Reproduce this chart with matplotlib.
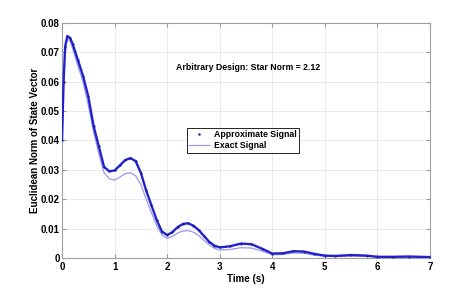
import matplotlib
matplotlib.use("Agg")
import matplotlib.pyplot as plt

t = [0, 0.03, 0.06, 0.1, 0.15, 0.2, 0.3, 0.4, 0.5, 0.6, 0.7, 0.8, 0.9, 1.0, 1.1, 1.2, 1.3,
     1.4, 1.5, 1.6, 1.7, 1.8, 1.9, 2.0, 2.1, 2.2, 2.3, 2.4, 2.5, 2.6, 2.7, 2.8, 2.9, 3.0,
     3.2, 3.4, 3.6, 3.8, 4.0, 4.2, 4.4, 4.6, 4.8, 5.0, 5.2, 5.5, 5.8, 6.0, 6.3, 6.6, 7.0]
approx = [0.040, 0.060, 0.072, 0.0755, 0.075, 0.073, 0.0675, 0.062, 0.055, 0.045, 0.038,
          0.031, 0.0295, 0.0298, 0.0315, 0.0333, 0.034, 0.0330, 0.029, 0.023, 0.018, 0.013,
          0.009, 0.0078, 0.0088, 0.0105, 0.0116, 0.0118, 0.011, 0.0095, 0.0075, 0.0055,
          0.0042, 0.0036, 0.0040, 0.0049, 0.0047, 0.0032, 0.0015, 0.0016, 0.0023, 0.0022,
          0.0014, 0.0008, 0.0007, 0.0010, 0.0008, 0.0004, 0.0004, 0.0005, 0.0003]
exact = [0.040, 0.058, 0.070, 0.0745, 0.074, 0.0715, 0.0655, 0.060, 0.052, 0.043, 0.0355,
         0.029, 0.027, 0.0265, 0.0275, 0.0287, 0.029, 0.028, 0.025, 0.020, 0.0155, 0.011,
         0.0078, 0.0067, 0.0073, 0.0085, 0.0092, 0.0093, 0.0088, 0.0076, 0.006, 0.0045,
         0.0033, 0.0027, 0.0029, 0.0035, 0.0034, 0.0024, 0.0011, 0.0012, 0.0017, 0.0016,
         0.0010, 0.0006, 0.0005, 0.0007, 0.0006, 0.0003, 0.0003, 0.0004, 0.0002]

xticks = [0, 1, 2, 3, 4, 5, 6, 7]
yticks = [0, 0.01, 0.02, 0.03, 0.04, 0.05, 0.06, 0.07, 0.08]
ytick_labels = ["0", "0.01", "0.02", "0.03", "0.04", "0.05", "0.06", "0.07", "0.08"]

plt.rcParams['font.family'] = ['Liberation Sans', 'DejaVu Sans']
plt.rcParams['font.weight'] = 'bold'

fig = plt.figure(figsize=(4.74, 2.89), dpi=100)
ax = fig.add_axes([0.1308, 0.1073, 0.9072 - 0.1308, 0.9204 - 0.1073])

ax.plot(t, exact, color='#9999ee', lw=0.9, label='Exact Signal', zorder=3)
ax.plot(t, approx, color='#2222cc', lw=1.7, zorder=4)
ax.plot(t, approx, linestyle='none', marker='.', ms=1.2, color='#1a1aaa',
        label='Approximate Signal', zorder=5)

ax.set_xlim(0, 7)
ax.set_ylim(0, 0.08)
ax.set_xticks(xticks)
ax.set_yticks(yticks)
ax.set_yticklabels(ytick_labels)
ax.tick_params(direction='in', length=3, labelsize=7, top=True, right=True,
               color='#999999')
ax.tick_params(axis='y', pad=1.5)
ax.tick_params(axis='x', pad=3)
for lab in ax.get_xticklabels() + ax.get_yticklabels():
    lab.set_fontweight('bold')
ax.grid(True, color='#e6e6e6', lw=0.6)
for s in ax.spines.values():
    s.set_color('#a0a0a0')
    s.set_linewidth(0.8)

ax.set_xlabel('Time (s)', fontsize=7, fontweight='bold', labelpad=1)
ax.set_ylabel('Euclidean Norm of State Vector', fontsize=7, fontweight='bold', labelpad=1)

ax.text(3.54, 0.0647, 'Arbitrary Design: Star Norm = 2.12', fontsize=6.3,
        fontweight='bold', ha='center', va='center')

handles, labels = ax.get_legend_handles_labels()
order = [1, 0]
leg = ax.legend([handles[i] for i in order], [labels[i] for i in order],
                loc='center', bbox_to_anchor=(0.492, 0.502), fontsize=6.3,
                fancybox=False, edgecolor='black', framealpha=1, markerscale=1.3,
                borderpad=0.3, labelspacing=0.2, handlelength=2.2, handletextpad=0.6,
                borderaxespad=0)
leg.get_frame().set_linewidth(0.6)
for txt in leg.get_texts():
    txt.set_fontweight('bold')

fig.savefig('out.png', dpi=100)
